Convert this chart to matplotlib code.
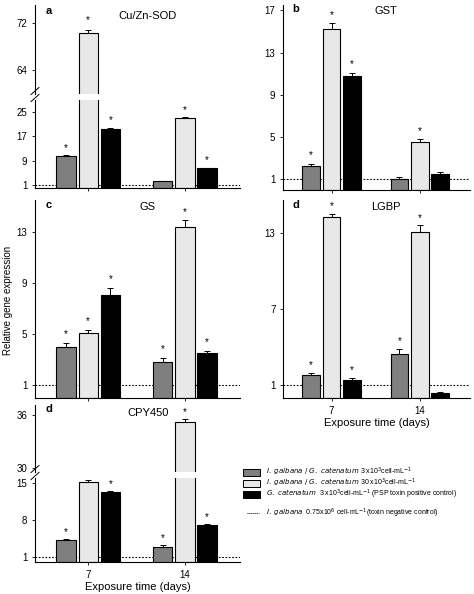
import matplotlib.pyplot as plt
from matplotlib.patches import Rectangle

W, H = 474, 594

groups = ["7", "14"]
series_colors = ["#7f7f7f", "#e8e8e8", "#000000"]

sod = [[10.5, 70.3, 19.5], [2.2, 23.0, 6.5]]
sod_err = [[0.3, 0.5, 0.3], [0.2, 0.3, 0.2]]
sod_star = [[1, 1, 1], [0, 1, 1]]
gst = [[2.3, 15.2, 10.8], [1.0, 4.5, 1.5]]
gst_err = [[0.2, 0.6, 0.3], [0.2, 0.3, 0.2]]
gst_star = [[1, 1, 1], [0, 1, 0]]
gs = [[4.0, 5.1, 8.1], [2.8, 13.4, 3.5]]
gs_err = [[0.3, 0.2, 0.5], [0.3, 0.5, 0.2]]
gs_star = [[1, 1, 1], [1, 1, 1]]
lgbp = [[1.8, 14.3, 1.4], [3.5, 13.1, 0.4]]
lgbp_err = [[0.2, 0.2, 0.2], [0.4, 0.5, 0.1]]
lgbp_star = [[1, 1, 1], [1, 1, 0]]
cyp = [[4.2, 15.2, 13.3], [2.9, 35.3, 7.0]]
cyp_err = [[0.2, 0.3, 0.2], [0.3, 0.3, 0.2]]
cyp_star = [[1, 1, 1], [1, 1, 1]]

fig = plt.figure(figsize=(W / 100, H / 100), dpi=100)
plt.rcParams["font.family"] = "Liberation Sans"
FS = 7


def px_axes(x0, y0, x1, y1):
    return fig.add_axes([x0 / W, 1 - y1 / H, (x1 - x0) / W, (y1 - y0) / H])


def draw_bars(ax, vals, errs, stars, star_pad):
    offs = [-0.23, 0, 0.23]
    for g in range(2):
        for s in range(3):
            x = g + offs[s]
            ax.bar(x, vals[g][s], width=0.2, color=series_colors[s],
                   edgecolor="black", linewidth=0.8, zorder=2)
            ax.errorbar(x, vals[g][s], yerr=[[0], [errs[g][s]]], color="black",
                        capsize=2, elinewidth=0.7, capthick=0.7, zorder=3)
            if stars[g][s]:
                ax.text(x, vals[g][s] + errs[g][s] + star_pad, "*", ha="center",
                        va="bottom", fontsize=7)
    ax.set_xlim(-0.55, 1.57)
    ax.axhline(1, color="black", linestyle=(0, (1.5, 1.5)), linewidth=0.8, zorder=1)
    for sp in ["top", "right"]:
        ax.spines[sp].set_visible(False)
    ax.tick_params(labelsize=FS, length=2, width=0.6)
    ax.set_xticks([0, 1])


def simple(box, vals, errs, stars, ylim, yticks, title, letter, xlab, pad):
    ax = px_axes(*box)
    draw_bars(ax, vals, errs, stars, pad)
    ax.set_ylim(*ylim)
    ax.set_yticks(yticks)
    if xlab:
        ax.set_xticklabels(groups)
        ax.set_xlabel("Exposure time (days)", fontsize=8, labelpad=2)
    else:
        ax.set_xticklabels([])
    ax.text(0.55, 0.95, title, transform=ax.transAxes, fontsize=8, ha="center")
    ax.text(0.05, 0.96, letter, transform=ax.transAxes, fontsize=8, weight="bold")
    return ax


def broken(box, ybreak, vals, errs, stars, lo, hi, lo_ticks, hi_ticks, title, letter, xlab, pad_lo, pad_hi):
    x0, y0, x1, y1 = box
    top = px_axes(x0, y0, x1, ybreak - 3)
    bot = px_axes(x0, ybreak + 3, x1, y1)
    draw_bars(top, vals, errs, stars, pad_hi)
    draw_bars(bot, vals, errs, stars, pad_lo)
    top.set_ylim(*hi)
    bot.set_ylim(*lo)
    top.set_yticks(hi_ticks)
    bot.set_yticks(lo_ticks)
    top.spines["bottom"].set_visible(False)
    top.tick_params(axis="x", bottom=False, labelbottom=False)
    # keep each star only in the axes where it lies
    for t in list(top.texts):
        if not (hi[0] < t.get_position()[1] < hi[1]):
            t.remove()
    for t in list(bot.texts):
        if t.get_position()[1] > lo[1] - 0.5:
            t.remove()
    if xlab:
        bot.set_xticklabels(groups)
        bot.set_xlabel("Exposure time (days)", fontsize=8, labelpad=2)
    else:
        bot.set_xticklabels([])
    d = 4 / W
    for yy in (1 - (ybreak - 6) / H, 1 - (ybreak + 1) / H):
        fig.add_artist(plt.Line2D([x0 / W - d, x0 / W + d], [yy - 0.006, yy + 0.006],
                                  color="black", linewidth=0.7))
    top.text(0.55, 0.84, title, transform=top.transAxes, fontsize=8, ha="center")
    top.text(0.05, 0.9, letter, transform=top.transAxes, fontsize=8, weight="bold")


broken((35, 5, 240, 188), 97, sod, sod_err, sod_star, (0, 29), (60, 75), [1, 9, 17, 25], [64, 72],
       "Cu/Zn-SOD", "a", False, 0.8, 0.8)
simple((283, 5, 470, 190), gst, gst_err, gst_star, (0, 17.5), [1, 5, 9, 13, 17], "GST", "b", False, 0.3)
simple((35, 200, 240, 398), gs, gs_err, gs_star, (0, 15.5), [1, 5, 9, 13], "GS", "c", False, 0.3)
simple((283, 200, 470, 398), lgbp, lgbp_err, lgbp_star, (0, 15.6), [1, 7, 13], "LGBP", "d", True, 0.2)
broken((35, 405, 240, 562), 475, cyp, cyp_err, cyp_star, (0, 15.9), (29.5, 37.2), [1, 8, 15], [30, 36],
       "CPY450", "d", True, 0.3, 0.2)

fig.text(8 / W, 1 - 300 / H, "Relative gene expression", rotation=90, va="center", ha="center", fontsize=7)

leg_labels = [
    r"$\it{I.\ galbana\ /\ G.\ catenatum}$ 3 x10$^3$cell-mL$^{-1}$",
    r"$\it{I.\ galbana\ /\ G.\ catenatum}$ 30 x10$^3$cell-mL$^{-1}$",
    r"$\it{G.\ catenatum}$  3 x10$^3$cell-mL$^{-1}$ (PSP toxin positive control)",
]
for i, lab in enumerate(leg_labels):
    yc = 472 + i * 11
    fig.add_artist(Rectangle((243 / W, 1 - (yc + 4) / H), 17 / W, 7 / H,
                             facecolor=series_colors[i], edgecolor="black", linewidth=0.7))
    fig.text(266 / W, 1 - yc / H, lab, fontsize=5.0, va="center")
fig.add_artist(plt.Line2D([247 / W, 259 / W], [1 - 513 / H] * 2, color="black",
                          linestyle=(0, (1, 1)), linewidth=0.7))
fig.text(266 / W, 1 - 513 / H, r"$\it{I.\ galbana}$  0.75x10$^6$ cell-mL$^{-1}$(toxin negative control)",
         fontsize=5.0, va="center")

fig.savefig("out.png", dpi=100)
